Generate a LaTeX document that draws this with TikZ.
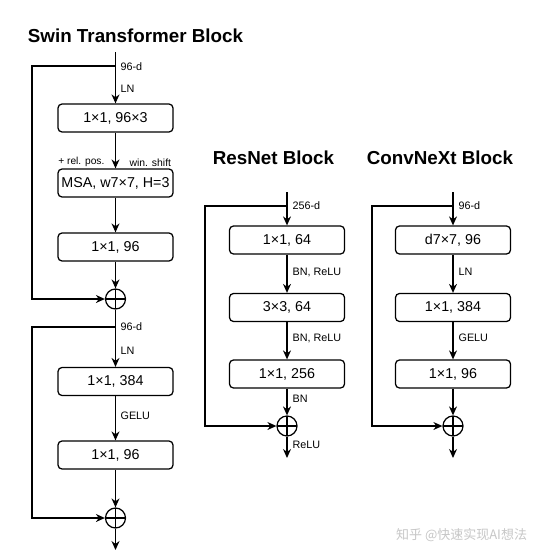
\documentclass[tikz,border=0pt]{standalone}
\usepackage{fontspec}
\setmainfont{Liberation Sans}
\newfontfamily\cjk{Noto Sans CJK SC}
\usetikzlibrary{arrows.meta}
\begin{document}
\begin{tikzpicture}[x=1pt,y=-1pt, line width=1.25pt,
 box/.style={draw, rounded corners=4pt, minimum width=115pt, minimum height=28pt, inner sep=0pt, font=\fontsize{14.3}{16}\selectfont},
 lbl/.style={anchor=west, inner sep=0pt, font=\fontsize{10.8}{12}\selectfont},
 ttl/.style={font=\fontsize{18.8}{22}\selectfont\bfseries},
 sumnode/.style={circle, draw, minimum size=20pt, inner sep=0pt,
   path picture={\draw (path picture bounding box.north) -- (path picture bounding box.south) (path picture bounding box.west) -- (path picture bounding box.east);}},
 arr/.style={-{Stealth[length=9pt,width=8pt]}}]
\useasboundingbox[fill=white] (0,0) rectangle (542,557);

% ---------- Swin ----------
\node[ttl] (t1) at (135.5,36) {Swin Transformer Block};
\coordinate (s1in) at (115.5,52);
\coordinate (s1sp) at (115.5,66);
\coordinate (s1L) at (32,66);
\node[box] (s1b1) at (115.5,118) {1×1, 96×3};
\node[box] (s1b2) at (115.5,183) {MSA, w7×7, H=3};
\node[box] (s1b3) at (115.5,247) {1×1, 96};
\node[sumnode] (s1c1) at (115.5,299) {};
\coordinate (s1sp2) at (115.5,327);
\coordinate (s1L2) at (32,327);
\node[box] (s1b4) at (115.5,381.5) {1×1, 384};
\node[box] (s1b5) at (115.5,455) {1×1, 96};
\node[sumnode] (s1c2) at (115.5,518) {};
\coordinate (s1out) at (115.5,550);

\draw[arr] (s1in) -- (s1b1);
\draw[arr] (s1b1) -- (s1b2);
\draw[arr] (s1b2) -- (s1b3);
\draw[arr] (s1b3) -- (s1c1);
\draw[arr] (s1sp) -- (s1L) |- (s1c1);
\draw[arr] (s1c1) -- (s1b4);
\draw[arr] (s1b4) -- (s1b5);
\draw[arr] (s1b5) -- (s1c2);
\draw[arr] (s1sp2) -- (s1L2) |- (s1c2);
\draw[arr] (s1c2) -- (s1out);

\node[lbl] (l1) at (120,67) {96-d};
\node[lbl] (l2) at (120,89) {LN};
\node[lbl, anchor=east, font=\fontsize{10.2}{12}\selectfont] (l3) at (105,162) {+ rel. pos.};
\node[lbl, font=\fontsize{10.4}{12}\selectfont] (l4) at (129,163) {win. shift};
\node[lbl] (l5) at (120,327) {96-d};
\node[lbl] (l6) at (120,351) {LN};
\node[lbl] (l7) at (120,416) {GELU};

% ---------- ResNet ----------
\node[ttl] (t2) at (273.5,158) {ResNet Block};
\coordinate (r1in) at (287,192);
\coordinate (r1sp) at (287,206);
\coordinate (r1L) at (205,206);
\node[box] (r1b1) at (287,240) {1×1, 64};
\node[box] (r1b2) at (287,307.5) {3×3, 64};
\node[box] (r1b3) at (287,374) {1×1, 256};
\node[sumnode] (r1c) at (287,426) {};
\coordinate (r1out) at (287,458);
\draw[arr] (r1in) -- (r1b1);
\draw[arr] (r1b1) -- (r1b2);
\draw[arr] (r1b2) -- (r1b3);
\draw[arr] (r1b3) -- (r1c);
\draw[arr] (r1sp) -- (r1L) |- (r1c);
\draw[arr] (r1c) -- (r1out);
\node[lbl] (l8) at (292,206) {256-d};
\node[lbl] (l9) at (292,272) {BN, ReLU};
\node[lbl] (l10) at (292,338) {BN, ReLU};
\node[lbl] (l11) at (292,399) {BN};
\node[lbl] (l12) at (292,445) {ReLU};

% ---------- ConvNeXt ----------
\node[ttl] (t3) at (440,158) {ConvNeXt Block};
\coordinate (c1in) at (453,192);
\coordinate (c1sp) at (453,206);
\coordinate (c1L) at (372,206);
\node[box] (c1b1) at (453,240) {d7×7, 96};
\node[box] (c1b2) at (453,307.5) {1×1, 384};
\node[box] (c1b3) at (453,374) {1×1, 96};
\node[sumnode] (c1c) at (453,426) {};
\coordinate (c1out) at (453,458);
\draw[arr] (c1in) -- (c1b1);
\draw[arr] (c1b1) -- (c1b2);
\draw[arr] (c1b2) -- (c1b3);
\draw[arr] (c1b3) -- (c1c);
\draw[arr] (c1sp) -- (c1L) |- (c1c);
\draw[arr] (c1c) -- (c1out);
\node[lbl] (l13) at (458,206) {96-d};
\node[lbl] (l14) at (458,272) {LN};
\node[lbl] (l15) at (458,338) {GELU};

% watermark
\node[text=black!22, font=\cjk\fontsize{13}{15}\selectfont, anchor=east] (wm) at (531,535) {知乎 @快速实现AI想法};
\end{tikzpicture}
\end{document}
